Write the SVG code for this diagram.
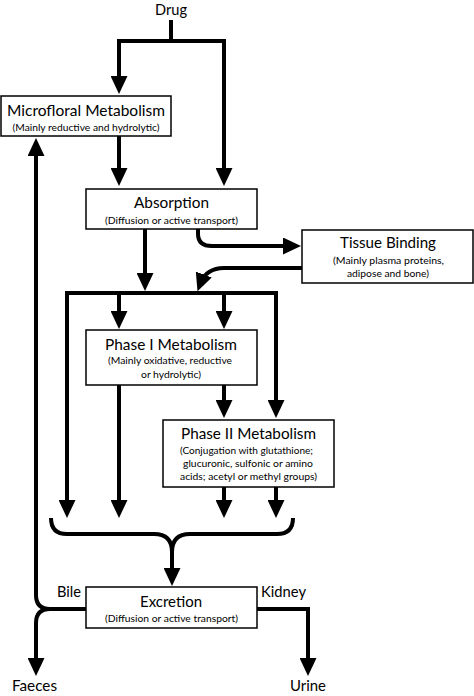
<svg xmlns="http://www.w3.org/2000/svg" width="474" height="696" viewBox="0 0 474 696">
<defs>
<marker id="ah" markerUnits="userSpaceOnUse" viewBox="0 0 18 17" markerWidth="18" markerHeight="17" refX="8" refY="8.5" orient="auto-start-reverse">
<path d="M0,0 L18,8.5 L0,17 Z" fill="#000"/>
</marker>
<style>
.box{fill:#fff;stroke:#000;stroke-width:1.5}
.c{fill:none;stroke:#000;stroke-width:4;stroke-linejoin:miter;stroke-linecap:butt}
.a{marker-end:url(#ah)}
text{font-family:Lato,"Open Sans","Liberation Sans",sans-serif;fill:#000;text-anchor:middle}
.t{font-size:16px}
.s{font-size:10px}
.l{font-size:15px}
</style>
</defs>
<rect width="474" height="696" fill="#fff"/>
<g id="connectors">
<path class="c" d="M171,20 V41"/>
<path class="c a" d="M173,41 H119 V84"/>
<path class="c a" d="M169,41 H224 V176"/>
<path class="c a" d="M119,136 V176"/>
<path class="c a" d="M145,229 V281"/>
<path class="c a" d="M198,229 V234 Q198,246 212,246 H291"/>
<path class="c a" d="M302,268 H224 C212,268 204,274 201,282"/>
<path class="c" d="M67,508 V293 H276 V408" style="marker-start:url(#ah);marker-end:url(#ah)"/>
<path class="c a" d="M119,293 V319"/>
<path class="c a" d="M224,293 V319"/>
<path class="c a" d="M119,385 V508"/>
<path class="c a" d="M224,385 V408"/>
<path class="c a" d="M224,487 V508"/>
<path class="c a" d="M276,487 V508"/>
<path class="c" d="M51,518 Q51,534 67,534 H154 Q172,534 172,552 Q172,534 190,534 H277 Q293,534 293,518"/>
<path class="c a" d="M172,550 V576"/>
<path class="c a" d="M86,609 H50 Q36,609 36,595 V148"/>
<path class="c a" d="M50,609 Q36,609 36,623 V666"/>
<path class="c a" d="M257,609 H308 V666"/>
</g>
<g id="drug"><text class="l" x="171" y="15" textLength="32" lengthAdjust="spacingAndGlyphs">Drug</text></g>
<g id="microfloral">
<rect class="box" x="1" y="96" width="170" height="40"/>
<text class="t" x="86" y="116" textLength="158" lengthAdjust="spacingAndGlyphs">Microfloral Metabolism</text>
<text class="s" x="86" y="131" textLength="147" lengthAdjust="spacingAndGlyphs">(Mainly reductive and hydrolytic)</text>
</g>
<g id="absorption">
<rect class="box" x="86" y="189" width="171" height="40"/>
<text class="t" x="171.5" y="208" textLength="75" lengthAdjust="spacingAndGlyphs">Absorption</text>
<text class="s" x="171.5" y="223.5" textLength="133" lengthAdjust="spacingAndGlyphs">(Diffusion or active transport)</text>
</g>
<g id="tissue">
<rect class="box" x="302" y="230" width="171" height="53"/>
<text class="t" x="388" y="248" textLength="96" lengthAdjust="spacingAndGlyphs">Tissue Binding</text>
<text class="s" x="388.5" y="264" textLength="111" lengthAdjust="spacingAndGlyphs">(Mainly plasma proteins,</text>
<text class="s" x="388" y="277" textLength="82" lengthAdjust="spacingAndGlyphs">adipose and bone)</text>
</g>
<g id="phase1">
<rect class="box" x="86" y="330" width="171" height="55"/>
<text class="t" x="171" y="350" textLength="132" lengthAdjust="spacingAndGlyphs">Phase I Metabolism</text>
<text class="s" x="170" y="364" textLength="124" lengthAdjust="spacingAndGlyphs">(Mainly oxidative, reductive</text>
<text class="s" x="171" y="377.5" textLength="60" lengthAdjust="spacingAndGlyphs">or hydrolytic)</text>
</g>
<g id="phase2">
<rect class="box" x="163" y="420" width="171" height="67"/>
<text class="t" x="248.5" y="439" textLength="135" lengthAdjust="spacingAndGlyphs">Phase II Metabolism</text>
<text class="s" x="246.5" y="454" textLength="133" lengthAdjust="spacingAndGlyphs">(Conjugation with glutathione;</text>
<text class="s" x="248" y="467" textLength="130" lengthAdjust="spacingAndGlyphs">glucuronic, sulfonic or amino</text>
<text class="s" x="248.5" y="480" textLength="137" lengthAdjust="spacingAndGlyphs">acids; acetyl or methyl groups)</text>
</g>
<g id="excretion">
<rect class="box" x="86" y="587" width="171" height="41"/>
<text class="t" x="171" y="607" textLength="62" lengthAdjust="spacingAndGlyphs">Excretion</text>
<text class="s" x="171.5" y="621.5" textLength="133" lengthAdjust="spacingAndGlyphs">(Diffusion or active transport)</text>
</g>
<g id="labels">
<text class="l" x="69" y="597" textLength="24" lengthAdjust="spacingAndGlyphs">Bile</text>
<text class="l" x="283.5" y="597" textLength="45" lengthAdjust="spacingAndGlyphs">Kidney</text>
</g>
<g id="faeces"><text class="l" x="34.5" y="691" textLength="45" lengthAdjust="spacingAndGlyphs">Faeces</text></g>
<g id="urine"><text class="l" x="308" y="691" textLength="36" lengthAdjust="spacingAndGlyphs">Urine</text></g>
</svg>
